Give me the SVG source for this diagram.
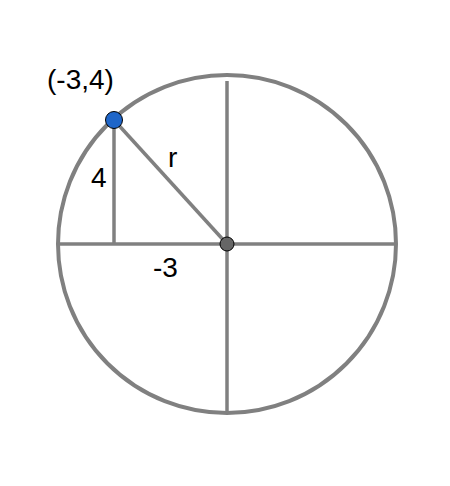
<svg xmlns="http://www.w3.org/2000/svg" width="450" height="486" viewBox="0 0 450 486">
<style>
.ln{stroke:#808080;stroke-width:3.5;fill:none}
.t{font-family:"Liberation Sans",Arial,sans-serif;font-size:28px;fill:#000}
</style>
<rect width="450" height="486" fill="#fff"/>
<g id="circle"><circle cx="227" cy="244" r="169" fill="none" stroke="#808080" stroke-width="4"/></g>
<g id="connectors">
<line class="ln" x1="58" y1="244" x2="395" y2="244"/>
<line class="ln" x1="227" y1="81" x2="227" y2="412"/>
<line class="ln" x1="114" y1="120" x2="227" y2="244"/>
<line class="ln" x1="114" y1="120" x2="114" y2="244"/>
</g>
<g id="origin"><circle cx="227" cy="244" r="7" fill="#666" stroke="#000" stroke-width="1"/></g>
<g id="point"><circle cx="114" cy="120" r="8.5" fill="#1f66c9" stroke="#000" stroke-width="1"/></g>
<g id="labels">
<text class="t" x="47" y="89">(-3,4)</text>
<text class="t" x="91" y="187">4</text>
<text class="t" x="168" y="167">r</text>
<text class="t" x="153" y="277">-3</text>
</g>
</svg>
